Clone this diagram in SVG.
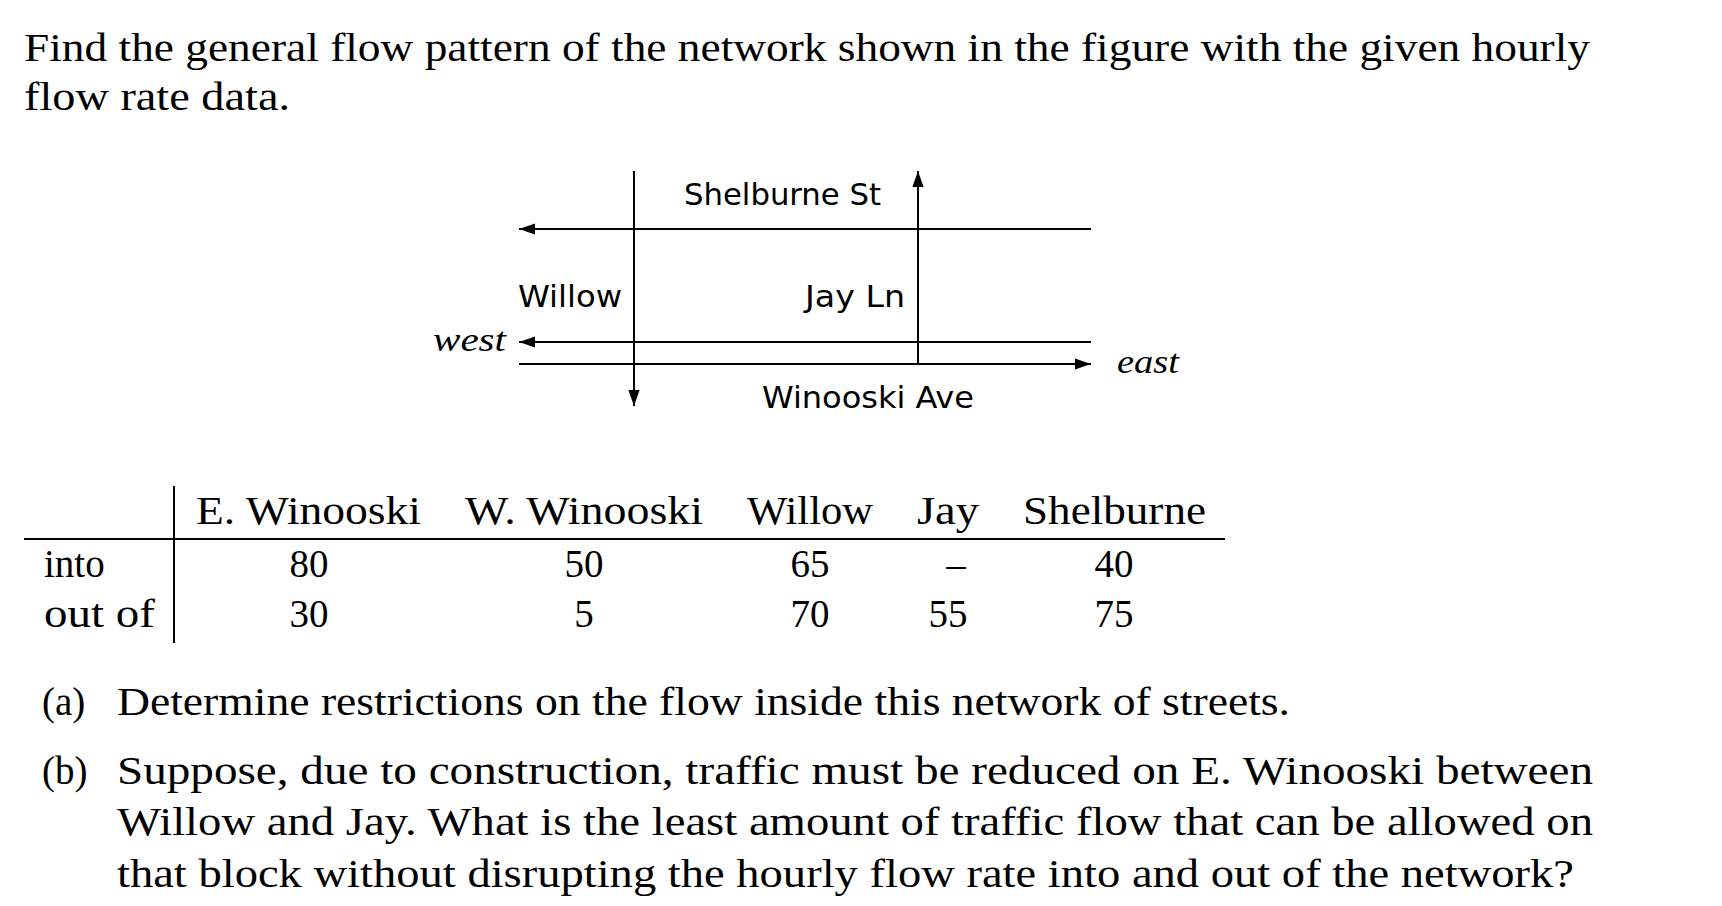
<svg xmlns="http://www.w3.org/2000/svg" width="1722" height="906" viewBox="0 0 1722 906">
<style>
.s{font-family:"Liberation Serif",serif;font-size:39px;fill:#000}
.c{text-anchor:middle}
.ss{font-family:"DejaVu Sans Condensed","DejaVu Sans",sans-serif;font-size:31px;fill:#000}
.it{font-family:"Liberation Serif",serif;font-style:italic;font-size:33px;fill:#000}
.l{stroke:#000;stroke-width:2;fill:none}
</style>
<defs>
<marker id="a" viewBox="0 0 10 10" refX="10" refY="5" markerWidth="7" markerHeight="7" markerUnits="userSpaceOnUse" orient="auto"><path d="M0,1 L10,5 L0,9 Z" fill="#000"/></marker>
<marker id="b" viewBox="0 0 10 10" refX="10" refY="5" markerWidth="16" markerHeight="16" markerUnits="userSpaceOnUse" orient="auto"><path d="M0,1.5 L10,5 L0,8.5 Z" fill="#000"/></marker>
</defs>
<rect width="1722" height="906" fill="#fff"/>
<text class="s" x="24" y="61" textLength="1566" lengthAdjust="spacingAndGlyphs">Find the general flow pattern of the network shown in the figure with the given hourly</text>
<text class="s" x="24" y="110" textLength="266" lengthAdjust="spacingAndGlyphs">flow rate data.</text>
<g id="connectors">
<line class="l" x1="634" y1="171" x2="634" y2="406" marker-end="url(#b)"/>
<line class="l" x1="918" y1="364" x2="918" y2="171" marker-end="url(#b)"/>
<line class="l" x1="1091" y1="229" x2="519" y2="229" marker-end="url(#b)"/>
<line class="l" x1="1091" y1="342" x2="519" y2="342" marker-end="url(#b)"/>
<line class="l" x1="519" y1="364" x2="1091" y2="364" marker-end="url(#b)"/>
</g>
<g id="labels">
<text class="ss" x="684" y="205" textLength="197" lengthAdjust="spacingAndGlyphs">Shelburne St</text>
<text class="ss" x="518" y="307" textLength="104" lengthAdjust="spacingAndGlyphs">Willow</text>
<text class="ss" x="805" y="307" textLength="100" lengthAdjust="spacingAndGlyphs">Jay Ln</text>
<text class="it" x="433" y="351" textLength="73" lengthAdjust="spacingAndGlyphs">west</text>
<text class="it" x="1117" y="373" textLength="62" lengthAdjust="spacingAndGlyphs">east</text>
<text class="ss" x="762" y="408" textLength="212" lengthAdjust="spacingAndGlyphs">Winooski Ave</text>
</g>
<g id="table">
<line class="l" x1="174" y1="486" x2="174" y2="643"/>
<line class="l" x1="24" y1="539" x2="1225" y2="539"/>
<text class="s" x="196" y="524" textLength="225" lengthAdjust="spacingAndGlyphs">E. Winooski</text>
<text class="s" x="465" y="524" textLength="238" lengthAdjust="spacingAndGlyphs">W. Winooski</text>
<text class="s" x="747" y="524" textLength="126" lengthAdjust="spacingAndGlyphs">Willow</text>
<text class="s" x="917" y="524" textLength="62" lengthAdjust="spacingAndGlyphs">Jay</text>
<text class="s" x="1023" y="524" textLength="183" lengthAdjust="spacingAndGlyphs">Shelburne</text>
<text class="s" x="44" y="577">into</text>
<text class="s c" x="309" y="577">80</text>
<text class="s c" x="584" y="577">50</text>
<text class="s c" x="810" y="577">65</text>
<text class="s c" x="956" y="577">–</text>
<text class="s c" x="1114" y="577">40</text>
<text class="s" x="44" y="627" textLength="111" lengthAdjust="spacingAndGlyphs">out of</text>
<text class="s c" x="309" y="627">30</text>
<text class="s c" x="584" y="627">5</text>
<text class="s c" x="810" y="627">70</text>
<text class="s c" x="948" y="627">55</text>
<text class="s c" x="1114" y="627">75</text>
</g>
<text class="s" x="42" y="715">(a)</text>
<text class="s" x="117" y="715" textLength="1173" lengthAdjust="spacingAndGlyphs">Determine restrictions on the flow inside this network of streets.</text>
<text class="s" x="42" y="784">(b)</text>
<text class="s" x="117" y="784" textLength="1476" lengthAdjust="spacingAndGlyphs">Suppose, due to construction, traffic must be reduced on E. Winooski between</text>
<text class="s" x="117" y="835" textLength="1476" lengthAdjust="spacingAndGlyphs">Willow and Jay. What is the least amount of traffic flow that can be allowed on</text>
<text class="s" x="117" y="887" textLength="1457" lengthAdjust="spacingAndGlyphs">that block without disrupting the hourly flow rate into and out of the network?</text>
</svg>
